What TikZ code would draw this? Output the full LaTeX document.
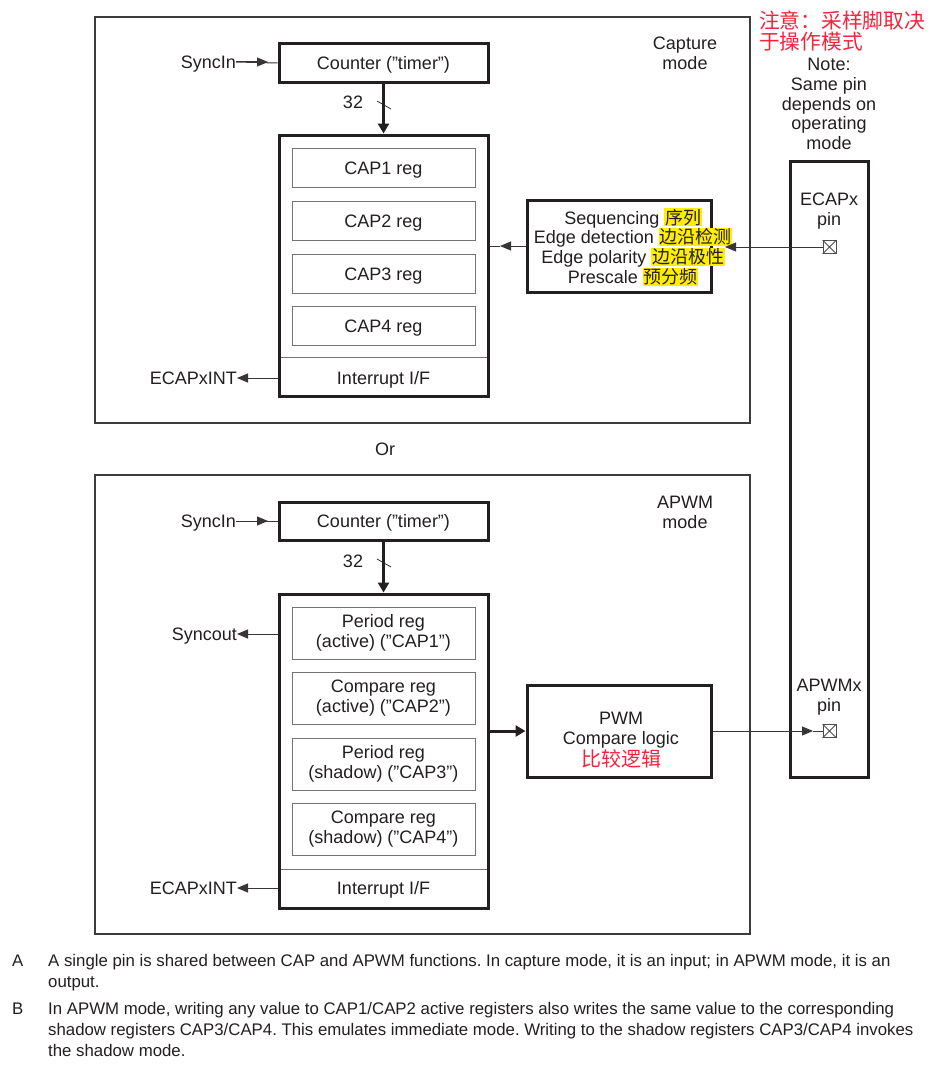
\documentclass[tikz,border=0pt]{standalone}
\usepackage{fontspec}
\setmainfont{Liberation Sans}
\newfontfamily\cjk{Noto Sans CJK SC}
\usetikzlibrary{arrows.meta}
\definecolor{ink}{RGB}{35,31,32}
\definecolor{framec}{RGB}{60,60,60}
\definecolor{regc}{RGB}{115,115,115}
\definecolor{hlc}{RGB}{255,238,0}
\definecolor{redc}{RGB}{245,35,60}
\newcommand\hlt[1]{{\setlength\fboxsep{0.6pt}\colorbox{hlc}{\cjk #1}}}
\frenchspacing
\begin{document}
\begin{tikzpicture}[x=1pt,y=-1pt,
  font=\fontsize{18}{19.8}\selectfont, text=ink,
  outerbox/.style={draw=framec, line width=1.8pt, inner sep=0, minimum width=655},
  thickbox/.style={draw=ink, line width=3pt, inner sep=0, align=center},
  regbox/.style={draw=regc, line width=1pt, minimum width=183, inner sep=0, align=center},
  lbl/.style={inner sep=0, align=center},
  one/.style={text height=13pt, text depth=0pt},
  thinline/.style={draw=ink!90, line width=1pt},
  arr/.style={draw=ink!90, line width=1pt, -{Triangle[length=11pt,width=9pt]}},
  bus/.style={draw=ink, line width=3pt, -{Triangle[length=10pt,width=11pt]}},
  pinsym/.style={draw=ink!80, line width=0.8pt, minimum size=13, inner sep=0},
  foot/.style={inner sep=0, anchor=base west, font=\fontsize{16.8}{20}\selectfont},
]
\useasboundingbox[fill=white] (0,0) rectangle (934,1065);

% ---------------- Capture mode ----------------
\node[outerbox, minimum height=406] (capbox) at (422.5,220) {};
\node[lbl] (captxt) at (685,53) {Capture\\mode};
\node[thickbox, one, minimum width=209, minimum height=38] (cnt1) at (383.5,63) {Counter (”timer”)};
\node[lbl, one, anchor=east] (sync1) at (236,62) {SyncIn};
\node[thickbox, minimum width=209, minimum height=261] (blk1) at (383.5,265.5) {};
\node[regbox, one, minimum height=39] (cap1) at (383.5,167.5) {CAP1 reg};
\node[regbox, one, minimum height=39] (cap2) at (383.5,220.5) {CAP2 reg};
\node[regbox, one, minimum height=39] (cap3) at (383.5,273.5) {CAP3 reg};
\node[regbox, one, minimum height=39] (cap4) at (383.5,326) {CAP4 reg};
\coordinate (d1l) at (280.5,357);
\coordinate (d1r) at (486.5,357);
\draw[draw=regc, line width=1pt] (d1l) -- (d1r);
\node[lbl, one] (int1) at (383.5,378) {Interrupt I/F};
\node[lbl, one, anchor=east] (ecint1) at (237,378) {ECAPxINT};
\node[lbl, one] (n32a) at (353,102) {32};
\coordinate (sl1a) at (377,101);
\coordinate (sl1b) at (391,109);

% prescale block
\node[thickbox, minimum width=184, minimum height=92] (pre) at (619,246) {};
\node[lbl] (pretxt) at (633,247) {Sequencing \hlt{序列}\\Edge detection \hlt{边沿检测}\\Edge polarity \hlt{边沿极性}\\Prescale \hlt{预分频}};

% ---------------- pin column ----------------
\node[draw=ink, line width=3pt, inner sep=0, minimum width=78, minimum height=616] (pincol) at (829,469) {};
\node[lbl] (ecpin) at (829,211) {ECAPx\\pin};
\node[pinsym] (pin1) at (829.5,247) {};
\draw[draw=ink!80, line width=0.8pt] (pin1.north west) -- (pin1.south east) (pin1.north east) -- (pin1.south west);
\node[lbl] (apin) at (829,697) {APWMx\\pin};
\node[pinsym] (pin2) at (829.5,731) {};
\draw[draw=ink!80, line width=0.8pt] (pin2.north west) -- (pin2.south east) (pin2.north east) -- (pin2.south west);
\node[lbl] (note) at (829,104) {Note:\\Same pin\\depends on\\operating\\mode};
\node[lbl, anchor=west, align=left, text=redc, font=\cjk\fontsize{20.7}{21}\selectfont] (cnnote) at (759,31) {注意：采样脚取决\\于操作模式};

% ---------------- Or ----------------
\node[lbl, one] (ortxt) at (385,449) {Or};

% ---------------- APWM mode ----------------
\node[outerbox, minimum height=459] (apbox) at (422.5,704.5) {};
\node[lbl] (aptxt) at (685,512) {APWM\\mode};
\node[thickbox, one, minimum width=209, minimum height=38] (cnt2) at (383.5,521) {Counter (”timer”)};
\node[lbl, one, anchor=east] (sync2) at (236,521) {SyncIn};
\node[thickbox, minimum width=209, minimum height=314] (blk2) at (383.5,751) {};
\node[regbox, minimum height=52] (r1) at (383.5,633) {Period reg\\(active) (”CAP1”)};
\node[regbox, minimum height=52] (r2) at (383.5,698) {Compare reg\\(active) (”CAP2”)};
\node[regbox, minimum height=52] (r3) at (383.5,764) {Period reg\\(shadow) (”CAP3”)};
\node[regbox, minimum height=52] (r4) at (383.5,829) {Compare reg\\(shadow) (”CAP4”)};
\coordinate (d2l) at (280.5,869);
\coordinate (d2r) at (486.5,869);
\draw[draw=regc, line width=1pt] (d2l) -- (d2r);
\node[lbl, one] (int2) at (383.5,888) {Interrupt I/F};
\node[lbl, one, anchor=east] (ecint2) at (237,888) {ECAPxINT};
\node[lbl, one, anchor=east] (syncout) at (237,634) {Syncout};
\node[lbl, one] (n32b) at (353,561) {32};
\coordinate (sl2a) at (377,559);
\coordinate (sl2b) at (391,567);
\node[thickbox, minimum width=184, minimum height=92] (pwm) at (619,731) {};
\node[lbl] (pwmtxt) at (621,740) {PWM\\Compare logic\\{\cjk\fontsize{20}{20}\selectfont\color{redc}比较逻辑}};

% ---------------- connectors ----------------
\draw[thinline] (sync1.east) -- (cnt1.west);
\draw[arr] (sync1.east) -- (268,62);
\draw[bus] (cnt1.south) -- (blk1.north);
\draw[draw=ink, line width=0.7pt] (sl1a) -- (sl1b);
\draw[arr] (blk1.west |- int1) -- (ecint1.east);
\draw[arr] (pre.west) -- (500,246);
\draw[thinline] (500,246) -- (blk1.east |- pre.west);
\draw[arr] (pin1.west) -- (725,247);

\draw[thinline] (sync2.east) -- (cnt2.west);
\draw[arr] (sync2.east) -- (268,521);
\draw[bus] (cnt2.south) -- (blk2.north);
\draw[draw=ink, line width=0.7pt] (sl2a) -- (sl2b);
\draw[arr] (blk2.west |- syncout) -- (syncout.east);
\draw[arr] (blk2.west |- int2) -- (ecint2.east);
\draw[bus] (blk2.east |- pwm.west) -- (pwm.west);
\draw[arr] (pwm.east) -- (813,731);
\draw[thinline] (813,731) -- (pin2.west);

% ---------------- footnotes ----------------
\node[foot] (fa) at (12,966) {A};
\node[foot] (fa1) at (48,966) {A single pin is shared between CAP and APWM functions. In capture mode, it is an input; in APWM mode, it is an};
\node[foot] (fa2) at (48,987) {output.};
\node[foot] (fb) at (12,1014) {B};
\node[foot] (fb1) at (48,1014) {In APWM mode, writing any value to CAP1/CAP2 active registers also writes the same value to the corresponding};
\node[foot] (fb2) at (48,1035) {shadow registers CAP3/CAP4. This emulates immediate mode. Writing to the shadow registers CAP3/CAP4 invokes};
\node[foot] (fb3) at (48,1056) {the shadow mode.};
\end{tikzpicture}
\end{document}
